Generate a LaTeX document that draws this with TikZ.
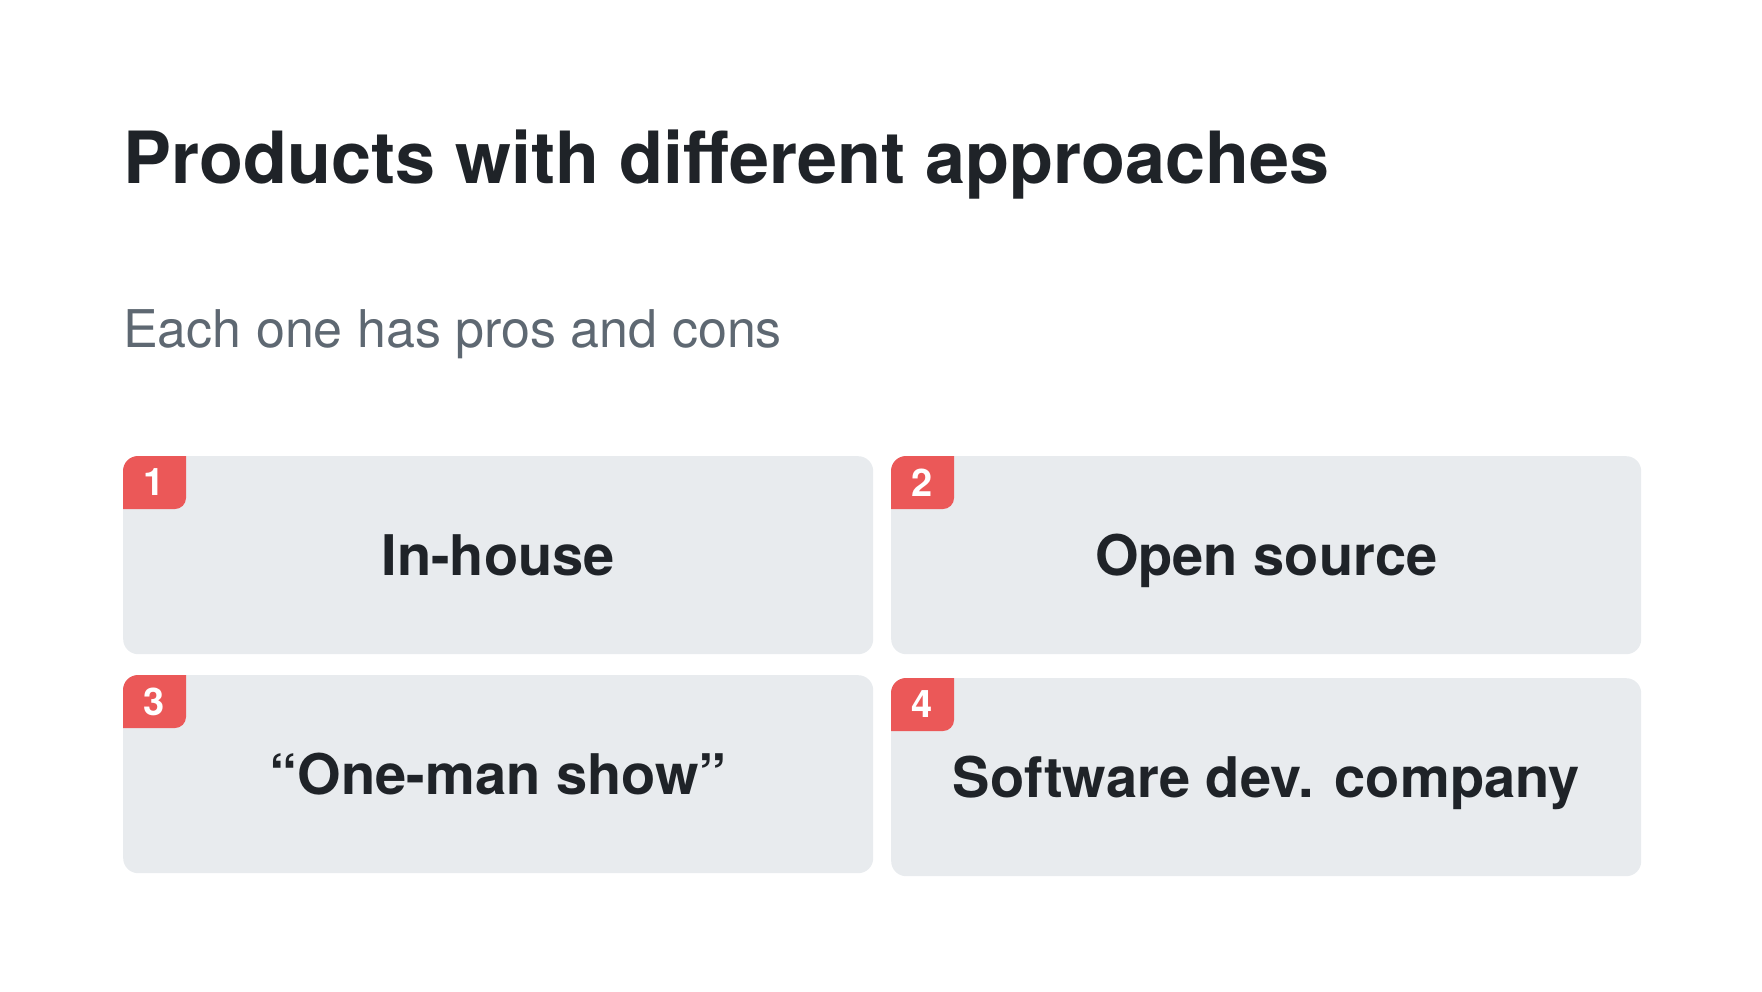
\documentclass[tikz,border=0pt]{standalone}
\usepackage{fontspec}
\setmainfont{TeX Gyre Heros}
\usetikzlibrary{positioning}
\definecolor{inkdark}{HTML}{1F2328}
\definecolor{inkgray}{HTML}{5E6872}
\definecolor{cardgray}{HTML}{E8EBEE}
\definecolor{badgered}{HTML}{EB5858}

\begin{document}
\begin{tikzpicture}[x=1pt,y=-1pt,
  card/.style={fill=cardgray,rounded corners=15pt,anchor=north west,inner sep=0pt,
    minimum width=750pt,minimum height=198pt,text height=40pt,text depth=0pt,
    text=inkdark,font=\fontsize{56}{60}\selectfont\bfseries},
  num/.style={text=white,inner sep=0pt,font=\fontsize{38}{40}\selectfont\bfseries}]
\useasboundingbox (0,0) rectangle (1762,991);
% heading
\node[anchor=base west,inner sep=0pt,text=inkdark,font=\fontsize{72}{80}\selectfont\bfseries]
  (title) at (123,183) {Products with different approaches};
\node[anchor=base west,inner sep=0pt,text=inkgray,font=\fontsize{52}{58}\selectfont]
  (sub) at (123,347) {Each one has pros and cons};
% cards
\node[card] (c1) at (123,456) {In-house};
\node[card] (c2) at (891,456) {Open source};
\node[card] (c3) at (123,675) {``One-man show''};
\node[card] (c4) at (891,678) {Software dev. company};
% badges
\foreach \c/\n in {c1/1,c2/2,c3/3,c4/4}{
  \begin{scope}
  \clip[rounded corners=15pt] (\c.north west) rectangle (\c.south east);
  \fill[badgered,rounded corners=11pt] ([shift={(-20pt,20pt)}]\c.north west)
    rectangle ([shift={(63pt,-53pt)}]\c.north west);
  \end{scope}
  \node[num] (n\n) at ([shift={(31.5pt,-26.5pt)}]\c.north west) {\n};
}
\end{tikzpicture}
\end{document}
